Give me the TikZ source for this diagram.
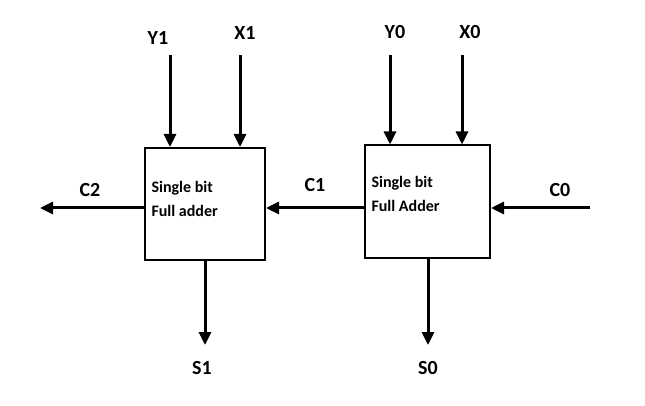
\documentclass[tikz,border=0pt]{standalone}
\usepackage{fontspec}
\setmainfont{Carlito}
\usetikzlibrary{arrows.meta}
\begin{document}
\begin{tikzpicture}[x=1pt,y=-1pt,
  box/.style={draw,line width=2pt,minimum width=120pt,minimum height=112pt,inner sep=0pt},
  arr/.style={line width=3pt,-{Triangle[length=13pt,width=12pt]}},
  lab/.style={font=\bfseries\fontsize{20}{20}\selectfont},
  btxt/.style={font=\bfseries\fontsize{16}{24}\selectfont,align=left,anchor=west}]
\useasboundingbox (0,0) rectangle (645,406);
\node[box] (b1) at (205,204) {};
\node[box,minimum width=125pt] (b2) at (427.5,201.5) {};
\node[btxt] (t1) at (148,199) {Single bit\\Full adder};
\node[btxt] (t2) at (368,194) {Single bit\\Full Adder};
\node[lab] (y1) at (158,38) {Y1};
\node[lab] (x1) at (245,33) {X1};
\node[lab] (y0) at (395,32) {Y0};
\node[lab] (x0) at (470,32) {X0};
\node[lab] (c2) at (90,190) {C2};
\node[lab] (c1) at (315,185) {C1};
\node[lab] (c0) at (560,190) {C0};
\node[lab] (s1) at (202,368) {S1};
\node[lab] (s0) at (428,368) {S0};
\coordinate (y1s) at (170,55); \coordinate (x1s) at (240,55);
\coordinate (y0s) at (390,55); \coordinate (x0s) at (462,55);
\coordinate (c2e) at (40,208); \coordinate (c0s) at (590,208);
\coordinate (s1e) at (205,345); \coordinate (s0e) at (428,345);
\draw[arr] (y1s) -- (y1s |- b1.north);
\draw[arr] (x1s) -- (x1s |- b1.north);
\draw[arr] (y0s) -- (y0s |- b2.north);
\draw[arr] (x0s) -- (x0s |- b2.north);
\draw[arr] (b1.west |- c2e) -- (c2e);
\draw[arr] (b2.west |- c2e) -- (b1.east |- c2e);
\draw[arr] (c0s) -- (b2.east |- c0s);
\draw[arr] (b1.south -| s1e) -- (s1e);
\draw[arr] (b2.south -| s0e) -- (s0e);
\end{tikzpicture}
\end{document}
